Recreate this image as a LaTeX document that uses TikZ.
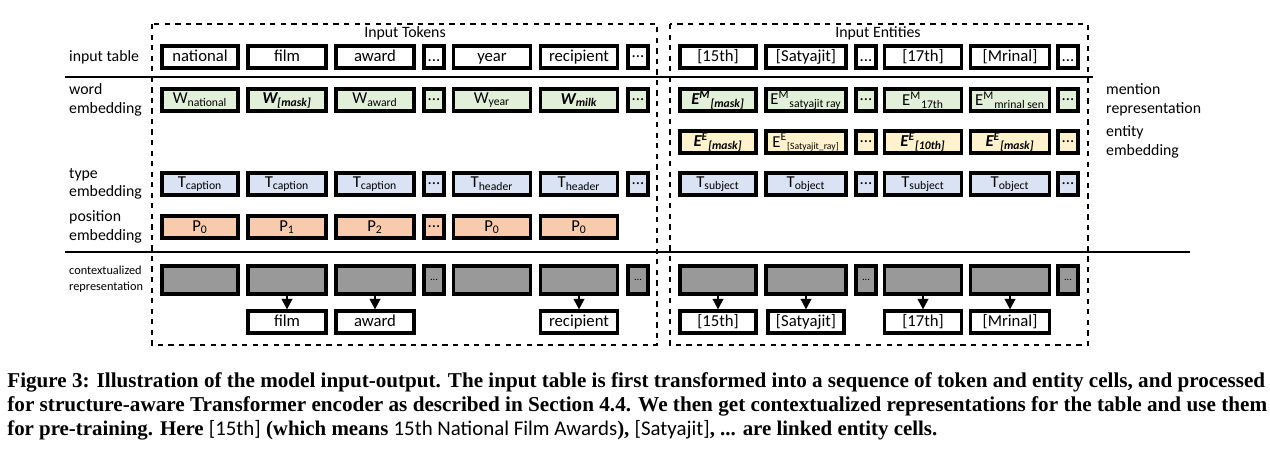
\documentclass[tikz,border=0pt]{standalone}
\usepackage{fontspec}
\setmainfont{Carlito}
\newfontfamily\capfont{Liberation Serif}
\usetikzlibrary{arrows.meta}
\definecolor{cg}{HTML}{E2F0D9}
\definecolor{cy}{HTML}{FFF2CC}
\definecolor{cb}{HTML}{DAE3F3}
\definecolor{co}{HTML}{F8CBAD}
\definecolor{cgr}{HTML}{999999}
\newcommand{\sbx}[1]{\textsubscript{#1}}
\newcommand{\spx}[1]{\textsuperscript{#1}}
\newcommand{\dd}{.\kern0pt.\kern0pt.}
\newcommand{\st}{\vphantom{Ay}}
\begin{document}
\begin{tikzpicture}[x=0.02cm,y=-0.02cm,
  cell/.style={draw,line width=1.8pt,minimum height=0.44cm,inner sep=0pt,font=\fontsize{9.5}{11}\selectfont},
  lab/.style={anchor=west,align=left,font=\fontsize{9}{10.5}\selectfont},
  arr/.style={-{Triangle[length=6pt,width=6pt]},line width=1.2pt}]
\useasboundingbox (0,0) rectangle (1270,453);
% dashed boxes
\draw[dashed,line width=1.3pt] (152,24) rectangle (657,345);
\draw[dashed,line width=1.3pt] (670,24) rectangle (1088,345);
\node[font=\fontsize{9}{10}\selectfont] (ht) at (405,33) {Input Tokens};
\node[font=\fontsize{9}{10}\selectfont] (he) at (878,33) {Input Entities};
\draw[line width=1.3pt] (65,77) -- (1093,77);
\draw[line width=1.3pt] (65,252) -- (1190,252);
% row labels
\node[lab] (l1) at (63,57) {input table};
\node[lab] (l2) at (63,100) {word\\embedding};
\node[lab] (l3) at (63,184) {type\\embedding};
\node[lab] (l4) at (63,227) {position\\embedding};
\node[lab,font=\fontsize{7}{9}\selectfont] (l5) at (63,279) {contextualized\\representation};
\node[lab] (r1) at (1100,100) {mention\\representation};
\node[lab] (r2) at (1100,142) {entity\\embedding};
% token columns
\foreach \n/\x/\w/\a/\b/\c/\d in {
  1/200/76/national/W\sbx{national}/T\sbx{caption}/P\sbx{0},
  2/287/78/film/\textbf{\textit{W\sbx{[mask]}}}/T\sbx{caption}/P\sbx{1},
  3/375/78/award/W\sbx{award}/T\sbx{caption}/P\sbx{2},
  4/434/20/\dd/\dd/\dd/\dd,
  5/492/77/year/W\sbx{year}/T\sbx{header}/P\sbx{0},
  6/579/77/recipient/\textbf{\textit{W\sbx{milk}}}/T\sbx{header}/P\sbx{0}}{
  \node[cell,minimum width=\w*0.02cm] (i\n) at (\x,57) {\st\a};
  \node[cell,fill=cg,minimum width=\w*0.02cm] (w\n) at (\x,100) {\b};
  \node[cell,fill=cb,minimum width=\w*0.02cm] (t\n) at (\x,184) {\c};
  \node[cell,fill=co,minimum width=\w*0.02cm] (p\n) at (\x,227) {\d};
  \node[cell,fill=cgr,minimum width=\w*0.02cm,minimum height=0.56cm] (c\n) at (\x,280) {};
}
\node[cell,minimum width=0.4cm] (i7) at (638,57) {\dd};
\node[cell,fill=cg,minimum width=0.4cm] (w7) at (638,100) {\dd};
\node[cell,fill=cb,minimum width=0.4cm] (t7) at (638,184) {\dd};
\node[cell,fill=cgr,minimum width=0.4cm,minimum height=0.56cm,font=\fontsize{6}{7}\selectfont] (c7) at (638,280) {\dd};
\node[font=\fontsize{6}{7}\selectfont] (d1) at (c4) {\dd};
% entity columns
\foreach \n/\x/\w/\a/\b/\c/\d in {
  1/718/76/[15th]/\textbf{\textit{E\spx{M}\sbx{[mask]}}}/\textbf{\textit{E\spx{E}\sbx{[mask]}}}/T\sbx{subject},
  2/806/80/[Satyajit]/E\spx{M}\sbx{satyajit ray}/E\spx{E}\sbx{\fontsize{5.5}{7}\selectfont[Satyajit\_ray]}/T\sbx{object},
  3/866/20/\dd/\dd/\dd/\dd,
  4/923/77/[17th]/E\spx{M}\sbx{17th}/\textbf{\textit{E\spx{E}\sbx{[10th]}}}/T\sbx{subject},
  5/1010/79/[Mrinal]/E\spx{M}\sbx{mrinal sen}/\textbf{\textit{E\spx{E}\sbx{[mask]}}}/T\sbx{object},
  6/1068/20/\dd/\dd/\dd/\dd}{
  \node[cell,minimum width=\w*0.02cm] (ei\n) at (\x,57) {\st\a};
  \node[cell,fill=cg,minimum width=\w*0.02cm] (em\n) at (\x,100) {\b};
  \node[cell,fill=cy,minimum width=\w*0.02cm] (ee\n) at (\x,142) {\c};
  \node[cell,fill=cb,minimum width=\w*0.02cm] (et\n) at (\x,184) {\d};
  \node[cell,fill=cgr,minimum width=\w*0.02cm,minimum height=0.56cm] (ec\n) at (\x,280) {};
}
\node[font=\fontsize{6}{7}\selectfont] (d2) at (ec3) {\dd};
\node[font=\fontsize{6}{7}\selectfont] (d3) at (ec6) {\dd};
% outputs
\foreach \src/\nm/\w/\t in {c2/o1/78/film, c3/o2/78/award, c6/o3/77/recipient,
  ec1/o4/76/[15th], ec2/o5/76/[Satyajit], ec4/o6/77/[17th], ec5/o7/79/[Mrinal]}{
  \path (\src.center) ++(0,42) node[cell,minimum width=\w*0.02cm] (\nm) {\st\t};
  \draw[arr] (\src) -- (\nm);
}
% caption
\node[anchor=west,inner sep=0pt] (cap1) at (7,382) {\resizebox{25.16cm}{!}{\capfont\bfseries Figure 3: Illustration of the model input-output. The input table is first transformed into a sequence of token and entity cells, and processed}};
\node[anchor=west,inner sep=0pt] (cap2) at (7,406) {\resizebox{25.2cm}{!}{\capfont\bfseries for structure-aware Transformer encoder as described in Section 4.4. We then get contextualized representations for the table and use them}};
\node[anchor=west,inner sep=0pt] (cap3) at (7,430) {\resizebox{18.6cm}{!}{\capfont\bfseries for pre-training. Here {\mdseries\rmfamily [15th]} (which means {\mdseries\rmfamily 15th National Film Awards}), {\mdseries\rmfamily [Satyajit]}, \dd{} are linked entity cells.}};
\end{tikzpicture}
\end{document}
